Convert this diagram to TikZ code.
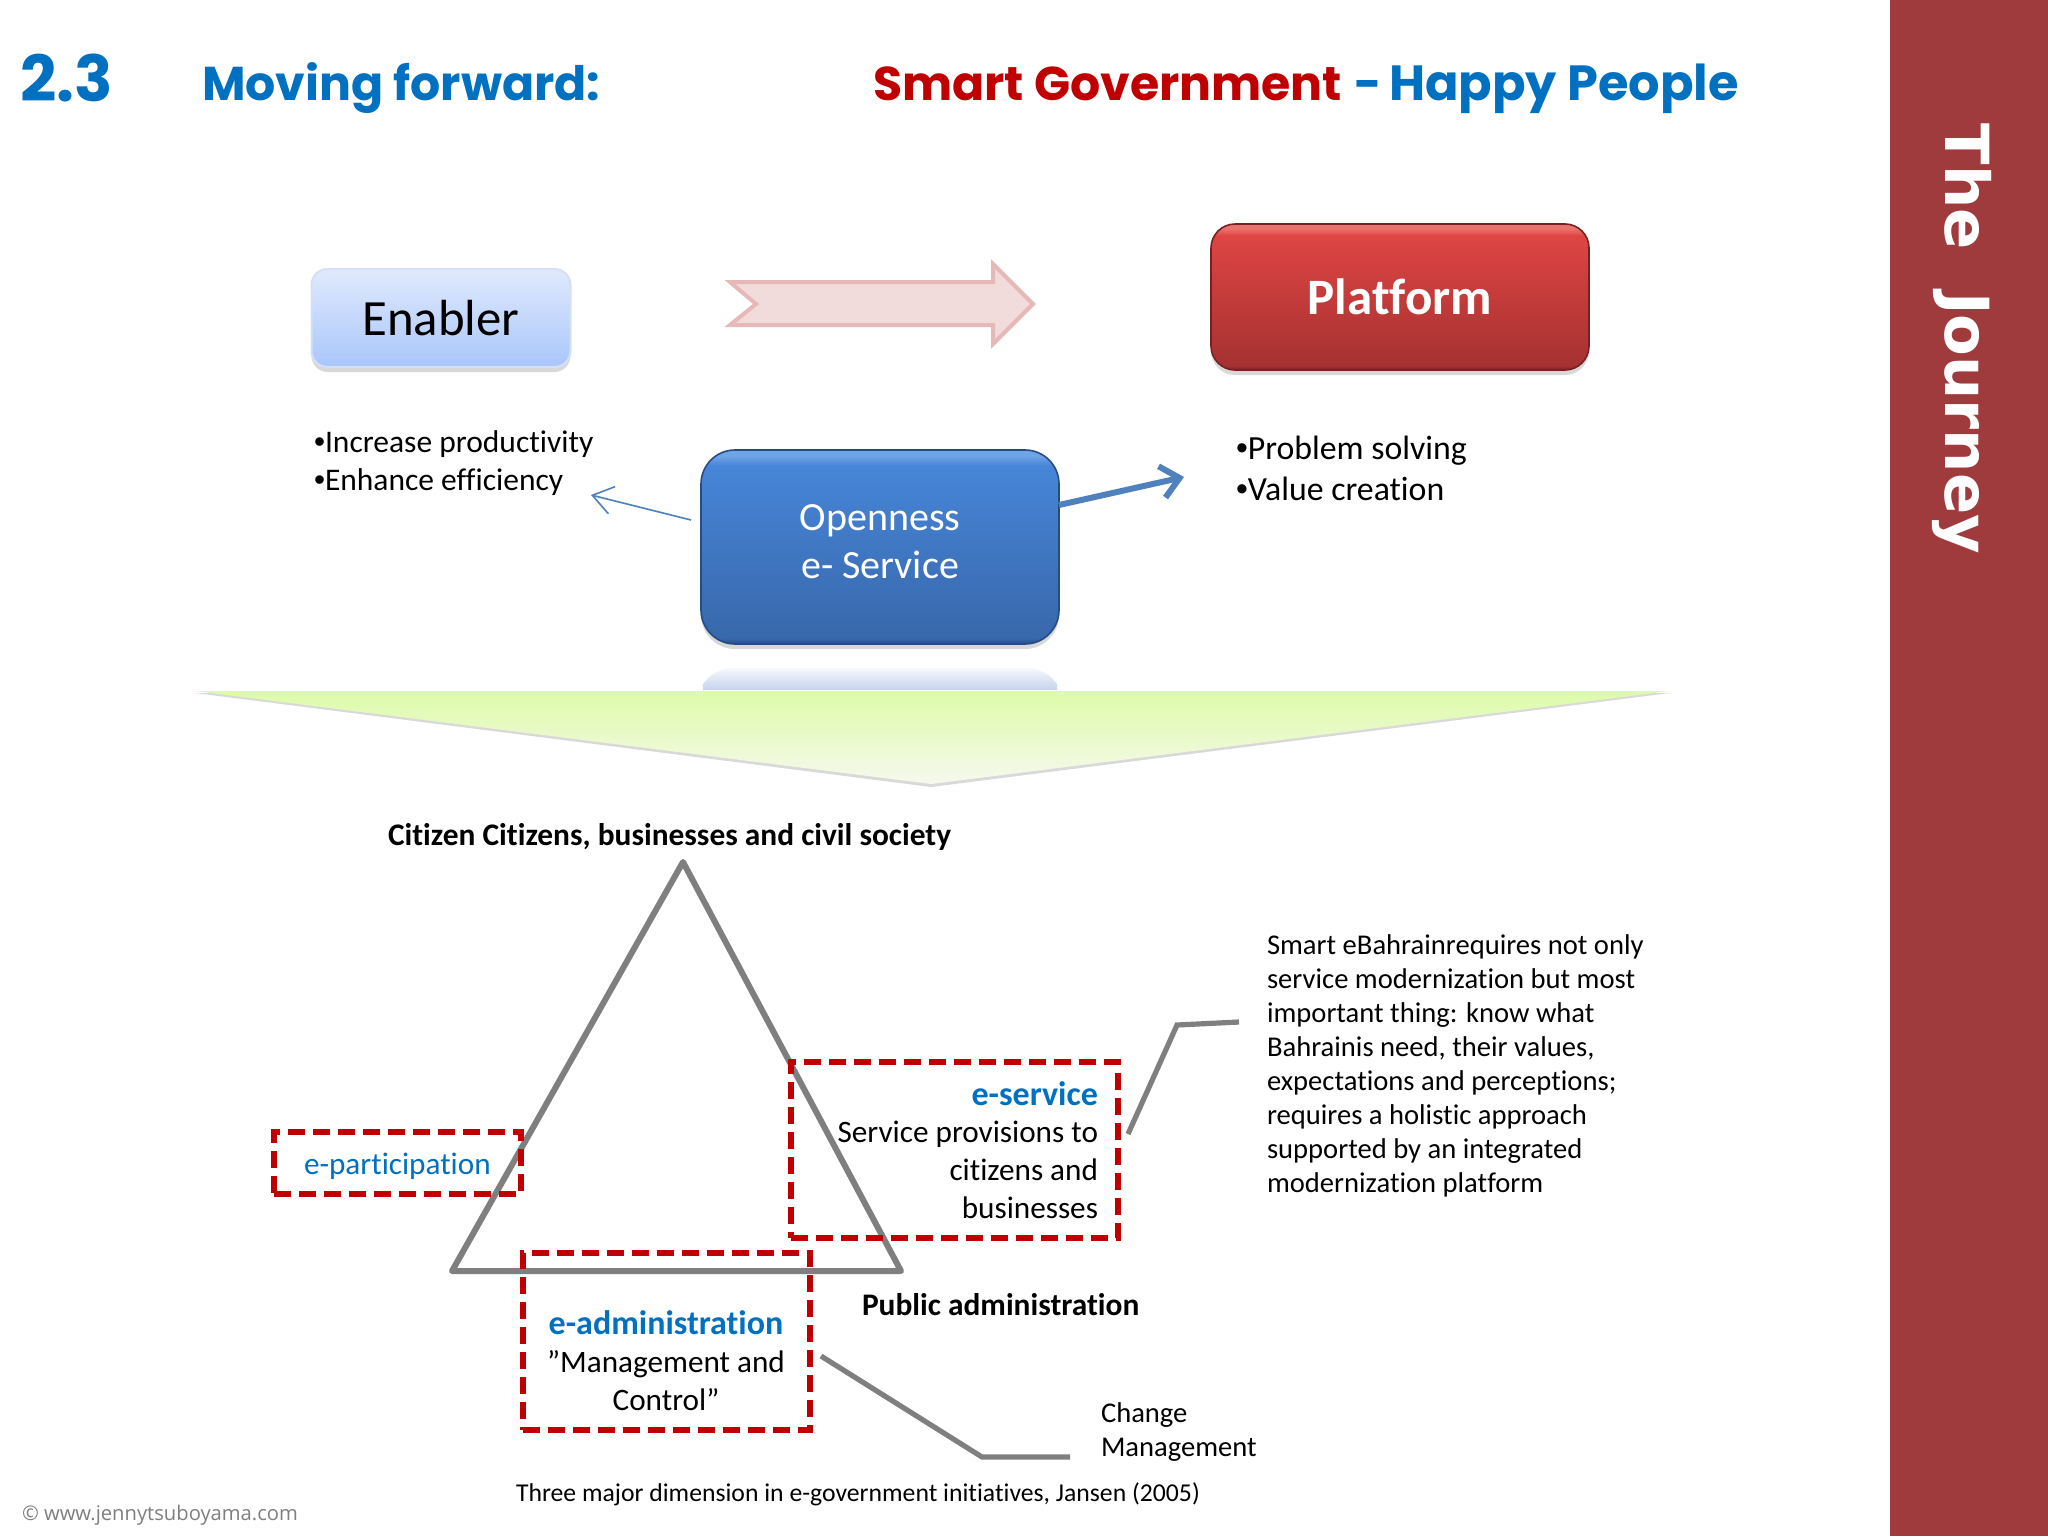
\documentclass[tikz,border=0pt]{standalone}
\usepackage{fontspec}
\setmainfont[Ligatures=NoCommon]{Carlito}
\newfontfamily\titlefont{Poppins}
\newfontfamily\sidefont{DejaVu Sans}
\newfontfamily\copyfont{Open Sans}
\newfontfamily\bulfont{Liberation Sans}
\newcommand{\bul}{{\bulfont •}}
\usetikzlibrary{arrows.meta,shadows,positioning}
\definecolor{tblue}{HTML}{0070C0}
\definecolor{tred}{HTML}{C00000}
\definecolor{side}{HTML}{9F3A3D}
\definecolor{conn}{HTML}{7F7F7F}
\definecolor{arrowblue}{HTML}{4F81BD}
\definecolor{pinkfill}{HTML}{F2DCDB}
\definecolor{pinkline}{HTML}{E6B9B8}
\definecolor{ptop}{HTML}{E0EAFC}
\definecolor{pbot}{HTML}{A9C6FB}
\definecolor{penl}{HTML}{D5E0F5}
\definecolor{gtop}{HTML}{DDFBA8}
\definecolor{gbot}{HTML}{F6F9EE}
\definecolor{rtop}{HTML}{F6F8FC}
\definecolor{rbot}{HTML}{C5D3EC}
\definecolor{ra}{HTML}{752222}
\definecolor{rb}{HTML}{A63131}
\definecolor{rc}{HTML}{DE4543}
\definecolor{rd}{HTML}{EB736E}
\definecolor{ba}{HTML}{264C85}
\definecolor{bb}{HTML}{3868AB}
\definecolor{bc}{HTML}{4785D8}
\definecolor{bd}{HTML}{6FA4E6}
\pgfdeclareverticalshading{platshade}{100bp}{color(0bp)=(ra);color(25bp)=(ra);color(26.5bp)=(rb);color(71bp)=(rc);color(73.5bp)=(rd);color(75bp)=(rd);color(100bp)=(rd)}
\pgfdeclareverticalshading{blueshade}{100bp}{color(0bp)=(ba);color(25bp)=(ba);color(26.5bp)=(bb);color(71bp)=(bc);color(73.5bp)=(bd);color(75bp)=(bd);color(100bp)=(bd)}
\tikzset{
  txt/.style={inner sep=0pt,outer sep=0pt},
  body/.style={txt,font=\fontsize{15.6}{19}\selectfont},
  small/.style={txt,align=left,font=\fontsize{14.3}{17}\selectfont},
  titletxt/.style={txt,anchor=base west,font=\titlefont\bfseries\fontsize{23.7}{28}\selectfont},
  softshadow/.style={drop shadow={opacity=.3,shadow xshift=0pt,shadow yshift=-2.5pt}},
  redbox/.style={draw=tred,line width=3.2pt,dash pattern=on 8.5pt off 4pt,minimum width=#1},
  greyline/.style={draw=conn,line width=2.6pt},
}
\begin{document}
\begin{tikzpicture}[x=0.5pt,y=-0.5pt]
\useasboundingbox (0,0) rectangle (2048,1536);
\fill[white] (0,0) rectangle (2048,1536);
% sidebar
\fill[side] (1890,0) rectangle (2048,1536);
\node[txt,rotate=-90,text=white,font=\sidefont\bfseries\fontsize{30.4}{36}\selectfont] (journey) at (1962,339) {The\hspace{.7em}Journey};
% title
\node[titletxt,text=tblue,font=\titlefont\bfseries\fontsize{31.8}{36}\selectfont] (num) at (20,102) {2.3};
\node[titletxt,text=tblue] (moving) at (202,101) {Moving forward:};
\node[titletxt,text=tred] (smart) at (873,101) {Smart Government};
\node[titletxt,text=tblue] (dash) at (1354,101) {-};
\node[titletxt,text=tblue,font=\titlefont\bfseries\fontsize{24.7}{28}\selectfont] (happy) at (1389,101) {Happy People};
% pink arrow
\draw[fill=pinkfill,draw=pinkline,line width=2pt,miter limit=4]
  (730,282) -- (993,282) -- (993,264) -- (1033,304) -- (993,344) -- (993,325) -- (730,325) -- (756,304) -- cycle;
% boxes
\node[draw=penl,line width=1pt,rounded corners=8pt,top color=ptop,bottom color=pbot,minimum width=129.5pt,minimum height=49pt,softshadow,font=\fontsize{25.4}{30}\selectfont,txt] (enabler) at (441,318) {Enabler};
\node[draw=ra,line width=.8pt,rounded corners=12pt,shading=platshade,minimum width=189pt,minimum height=73pt,softshadow,text=white,font=\bfseries\fontsize{25.5}{30}\selectfont,txt] (platform) at (1400,297) {Platform};
\path[top color=rtop,bottom color=rbot] (703,690) -- (703,684) [rounded corners=10pt] -- (712,668) -- (1048,668) [sharp corners] -- (1057,684) -- (1057,690) -- cycle;
\node[draw=ba,line width=.8pt,rounded corners=17pt,shading=blueshade,minimum width=179pt,minimum height=97pt,softshadow,text=white,align=center,txt] (open) at (880,547) {};
\node[txt,text=white,align=center,font=\fontsize{20}{24}\selectfont] (opent) at (880,542) {Openness\\e- Service};
% bullets
\node[txt,anchor=north west,align=left,font=\fontsize{15.75}{19}\selectfont] (left) at (314,431) {\bul Increase productivity\\\bul Enhance efficiency};
\node[txt,anchor=north west,align=left,font=\fontsize{16.9}{20.5}\selectfont] (right) at (1236,436) {\bul Problem solving\\\bul Value creation};
% arrows
\coordinate (a1s) at (691,520); \coordinate (a1e) at (591,495);
\coordinate (a2s) at (open.east|-0,505); \coordinate (a2e) at (1184,477);
\draw[arrowblue,line width=.8pt,-{Straight Barb[length=10pt,width=14pt,line width=.8pt]}] (a1s) -- (a1e);
\draw[arrowblue,line width=3pt,-{Straight Barb[length=9pt,width=16pt,line width=3pt]}] (a2s) -- (a2e);
% green wedge
\fill[black,opacity=.15] (195,693) -- (1670,693) -- (931,787) -- cycle;
\path[top color=gtop,bottom color=gbot] (195,691) -- (1670,691) -- (931,784) -- cycle;
% triangle
\coordinate (ta) at (683,862); \coordinate (tb) at (452,1271); \coordinate (tc) at (901,1271);
\draw[conn,line width=3pt,line join=round] (ta) -- (tb) -- (tc) -- cycle;
\node[body,anchor=base west,font=\bfseries\fontsize{15.7}{19}\selectfont] (citizen) at (388,845) {Citizen Citizens, businesses and civil society};
% red boxes
\node[redbox=123.5pt,minimum height=31pt,txt,inner sep=0pt] (bpart) at (397.5,1163) {};
\node[redbox=163.5pt,minimum height=88pt,txt] (bserv) at (954.5,1150) {};
\node[redbox=143.5pt,minimum height=88.5pt,txt] (badm) at (666.5,1341.5) {};
% inner texts
\node[body,anchor=base west,text=tblue] (tpart) at (304,1174) {e-participation};
\node[body,anchor=base east,text=tblue,font=\bfseries\fontsize{17}{19}\selectfont] (tserv) at (1098,1105) {e-service};
\node[body,anchor=north east,align=right] (tservb) at (1098,1121) {Service provisions to\\citizens and\\businesses};
\node[body,anchor=base,text=tblue,font=\bfseries\fontsize{17}{19}\selectfont] (tadm) at (666,1334) {e-administration};
\node[body,anchor=north,align=center] (tadmb) at (666,1350) {”Management and\\Control”};
\node[body,anchor=base west,font=\bfseries\fontsize{15.7}{19}\selectfont] (pub) at (862,1315) {Public administration};
% callouts
\node[small,anchor=north west] (para) at (1267,935) {Smart eBahrainrequires not only\\service modernization but most\\important thing: know what\\Bahrainis need, their values,\\expectations and perceptions;\\requires a holistic approach\\supported by an integrated\\modernization platform};
\node[small,anchor=north west] (change) at (1101,1403) {Change\\Management};
\coordinate (c1a) at (1128,1134); \coordinate (c1b) at (1177,1025); \coordinate (c1c) at (1239,1022);
\draw[greyline,line join=miter] (c1a) -- (c1b) -- (c1c);
\coordinate (c2a) at (821,1356); \coordinate (c2b) at (982,1457); \coordinate (c2c) at (1070,1457);
\draw[greyline] (c2a) -- (c2b) -- (c2c);
\node[txt,anchor=base west,font=\fontsize{12.85}{16}\selectfont] (cite) at (516,1501) {Three major dimension in e-government initiatives, Jansen (2005)};
\node[txt,anchor=base west,text=conn,font=\copyfont\fontsize{10.1}{13}\selectfont] (copy) at (22,1520) {© www.jennytsuboyama.com};
\end{tikzpicture}
\end{document}
